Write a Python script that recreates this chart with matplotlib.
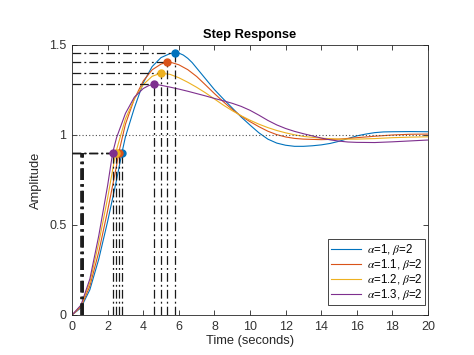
import numpy as np
import matplotlib
matplotlib.use('Agg')
import matplotlib.pyplot as plt

plt.rcParams['font.family'] = ['Liberation Sans', 'DejaVu Sans']
plt.rcParams['mathtext.fontset'] = 'stix'

# step responses
t_a1 = [0, 0.5, 1, 1.5, 2, 2.5, 2.8, 3, 3.5, 4, 4.5, 5, 5.5, 5.79, 6, 6.25, 6.5, 6.75, 7, 7.5, 8, 8.5, 9,
        9.5, 10, 10.5, 11, 11.5, 12, 12.5, 13, 13.5, 14, 14.5, 15, 15.5, 16, 16.5, 17, 17.5, 18, 19, 20]
y_a1 = [0, 0.04, 0.14, 0.31, 0.52, 0.75, 0.9, 0.99, 1.15, 1.29, 1.38, 1.43, 1.452, 1.457, 1.455, 1.444,
        1.426, 1.402, 1.372, 1.312, 1.252, 1.20, 1.15, 1.10, 1.055, 1.012, 0.977, 0.955, 0.943, 0.937,
        0.937, 0.94, 0.945, 0.953, 0.965, 0.98, 0.995, 1.005, 1.013, 1.017, 1.018, 1.019, 1.018]

t_a11 = [0, 0.5, 1, 1.5, 2, 2.5, 2.62, 3, 3.5, 4, 4.5, 5, 5.35, 5.6, 6, 6.5, 7, 7.5, 8, 8.5, 9, 9.5, 10,
         10.5, 11, 11.5, 12, 12.5, 13, 14, 15, 16, 17, 18, 19, 20]
y_a11 = [0, 0.045, 0.16, 0.35, 0.58, 0.83, 0.9, 1.06, 1.2, 1.3, 1.362, 1.394, 1.404, 1.402, 1.39, 1.363,
         1.325, 1.278, 1.23, 1.185, 1.142, 1.105, 1.074, 1.046, 1.021, 1.002, 0.989, 0.981, 0.977,
         0.974, 0.977, 0.985, 0.993, 1.0, 1.004, 1.005]

t_a12 = [0, 0.5, 1, 1.5, 2, 2.45, 3, 3.5, 4, 4.5, 4.98, 5.5, 6, 6.5, 7, 7.5, 8, 8.5, 9, 9.5, 10, 10.5,
         11, 11.5, 12, 12.5, 13, 14, 15, 16, 17, 18, 19, 20]
y_a12 = [0, 0.05, 0.18, 0.4, 0.65, 0.9, 1.09, 1.2, 1.28, 1.326, 1.343, 1.337, 1.318, 1.293, 1.265, 1.234,
         1.20, 1.166, 1.135, 1.107, 1.082, 1.06, 1.041, 1.025, 1.012, 1.001, 0.992, 0.982, 0.977, 0.977,
         0.98, 0.985, 0.988, 0.99]

t_a13 = [0, 0.5, 1, 1.5, 2, 2.28, 2.5, 3, 3.5, 4, 4.3, 4.61, 5, 5.5, 6, 6.5, 7, 7.5, 8, 8.5, 9, 9.5, 10,
         10.5, 11, 11.5, 12, 12.5, 13, 13.5, 14, 14.5, 15, 15.5, 16, 17, 18, 19, 20]
y_a13 = [0, 0.055, 0.2, 0.44, 0.72, 0.9, 0.985, 1.12, 1.21, 1.258, 1.274, 1.283, 1.276, 1.266, 1.255,
         1.243, 1.23, 1.217, 1.203, 1.19, 1.176, 1.159, 1.137, 1.11, 1.081, 1.056, 1.036, 1.02, 1.007,
         0.995, 0.983, 0.973, 0.966, 0.961, 0.959, 0.958, 0.962, 0.967, 0.972]

labels = [r'$\alpha$=1, $\beta$=2', r'$\alpha$=1.1, $\beta$=2',
          r'$\alpha$=1.2, $\beta$=2', r'$\alpha$=1.3, $\beta$=2']
colors = ['#0072BD', '#D95319', '#EDB120', '#7E2F8E']

# rise (90%) and peak markers
rise_level = 0.9
rise_t = [2.8, 2.62, 2.45, 2.28]
peak_t = [5.79, 5.35, 4.98, 4.61]
peak_y = [1.457, 1.404, 1.343, 1.283]
start_t = [0.64, 0.60, 0.56, 0.52]

fig = plt.figure(figsize=(4.74, 3.55), dpi=100)
ax = fig.add_axes([0.152, 0.1127, 0.751, 0.7606])

ts = [t_a1, t_a11, t_a12, t_a13]
ys = [y_a1, y_a11, y_a12, y_a13]
for t, y, c, lab in zip(ts, ys, colors, labels):
    ax.plot(t, y, color=c, lw=0.8, label=lab)

ax.axhline(1, color='0.3', lw=0.8, ls=(0, (1, 2)))

dd = (0, (7, 2.5, 1.5, 2.5))
k = '0.1'
for i in range(4):
    ax.plot([0, rise_t[i]], [rise_level, rise_level], color=k, lw=0.9, ls=dd)
    ax.plot([rise_t[i], rise_t[i]], [0, rise_level], color=k, lw=0.9, ls=dd)
    ax.plot([start_t[i], start_t[i]], [0, rise_level], color=k, lw=1.2, ls=dd)
    ax.plot([0, peak_t[i]], [peak_y[i], peak_y[i]], color=k, lw=0.9, ls=dd)
    ax.plot([peak_t[i], peak_t[i]], [0, peak_y[i]], color=k, lw=0.9, ls=dd)

for i in range(4):
    ax.plot(rise_t[i], rise_level, 'o', color=colors[i], ms=5)
    ax.plot(peak_t[i], peak_y[i], 'o', color=colors[i], ms=5)

ax.set_xlim(0, 20)
ax.set_ylim(0, 1.5)
ax.set_xticks(np.arange(0, 21, 2))
ax.set_yticks([0, 0.5, 1, 1.5])
ax.set_yticklabels(['0', '0.5', '1', '1.5'])
ax.tick_params(direction='in', top=True, right=True, length=3.5, width=0.6, pad=4,
               colors='0.15', labelsize=9, labelcolor='0.2')
for s in ax.spines.values():
    s.set_color('0.15')
    s.set_linewidth(0.6)

ax.set_title('Step Response', fontsize=9.3, fontweight='bold', pad=5)
ax.set_xlabel('Time (seconds)', fontsize=9.3, color='0.15', labelpad=2)
ax.set_ylabel('Amplitude', fontsize=9.3, color='0.15', labelpad=5)

leg = ax.legend(loc='lower right', bbox_to_anchor=(0.992, 0.037), borderaxespad=0,
                fontsize=8.3, fancybox=False, handlelength=2.6, borderpad=0.25,
                labelspacing=0.0, handletextpad=0.5, framealpha=1)
leg.get_frame().set_edgecolor('0.15')
leg.get_frame().set_linewidth(0.6)

fig.savefig('out.png', dpi=100)
